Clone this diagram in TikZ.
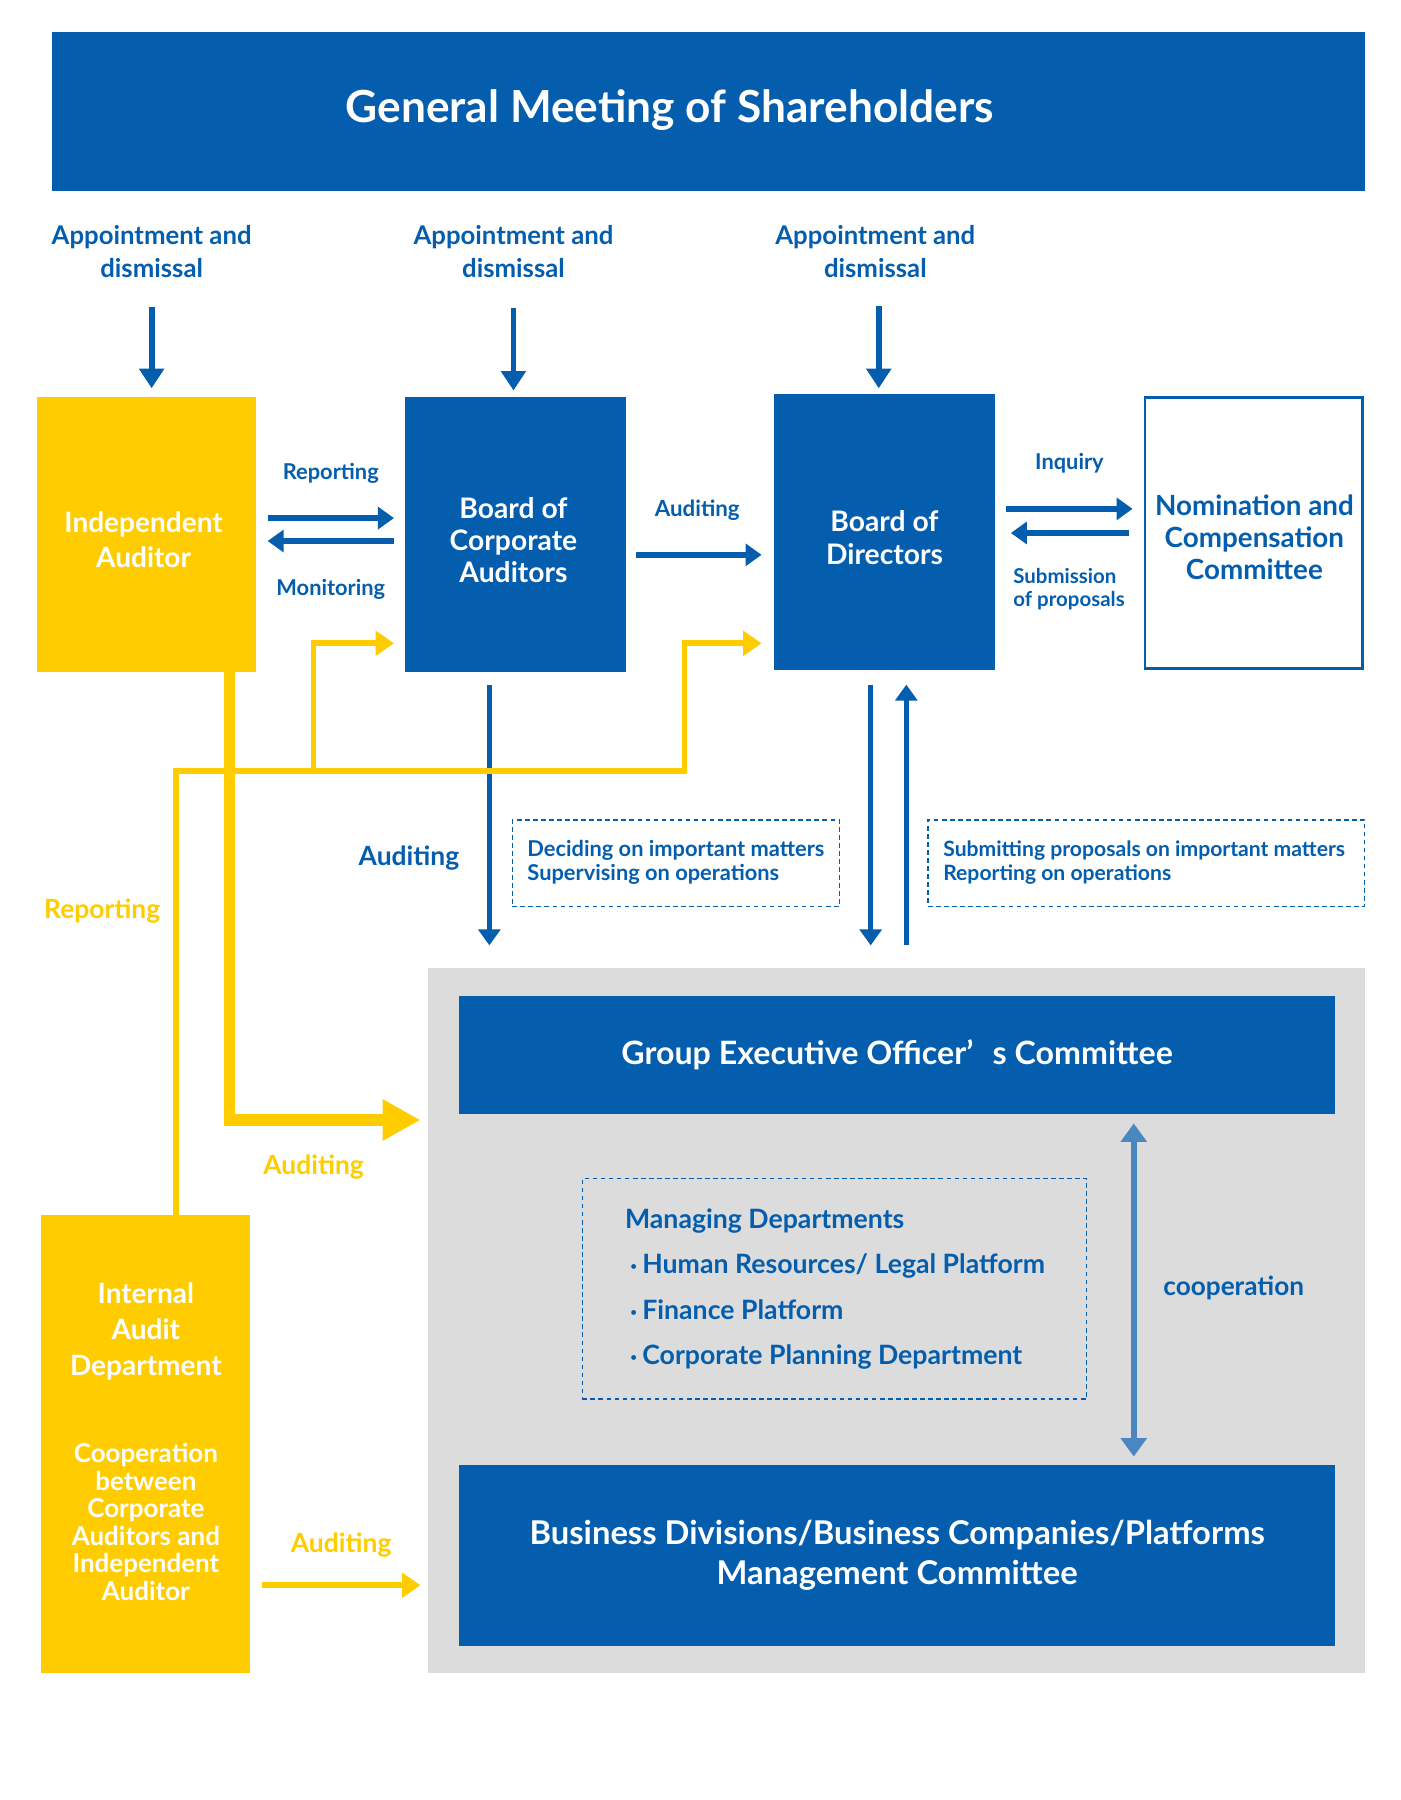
\documentclass[tikz,border=0pt]{standalone}
\usepackage{fontspec}
\setmainfont{Lato}
\newfontfamily\cjk{Noto Sans CJK JP}
\usetikzlibrary{arrows.meta,calc}
\definecolor{cblue}{RGB}{4,94,173}
\definecolor{cyel}{RGB}{255,204,0}
\definecolor{cgray}{RGB}{220,220,220}
\definecolor{clblue}{RGB}{74,134,192}
\newcommand\fsz[2]{\fontsize{#1}{#2}\selectfont\bfseries}
\newcommand\bul{{\cjk\bfseries ・}}
\begin{document}
\begin{tikzpicture}[x=1pt,y=-1pt,
  bluebox/.style={fill=cblue,text=white,align=center,inner sep=0pt,draw=none},
  yelbox/.style={fill=cyel,text=white,align=center,inner sep=0pt,draw=none},
  lbl/.style={text=cblue,align=center,inner sep=0pt},
  ylbl/.style={text=cyel,align=center,inner sep=0pt},
  dbox/.style={draw=cblue,dashed,dash pattern=on 4pt off 3pt,line width=1.3pt,inner sep=0pt},
  barr/.style={draw=cblue,line width=5pt,-{Triangle[length=17pt,width=21pt]}},
  sarr/.style={draw=cblue,line width=5pt,-{Triangle[length=14pt,width=19pt]}},
  yarr/.style={draw=cyel,line width=5pt,-{Triangle[length=16pt,width=21pt]}},
  ybig/.style={draw=cyel,line width=10pt,-{Triangle[length=33pt,width=34pt]}},
  yline/.style={draw=cyel,line width=5pt},
]
\useasboundingbox (0,0) rectangle (1219,1567);
\fill[white] (0,0) rectangle (1219,1567);

% title
\node[bluebox,minimum width=1143pt,minimum height=138pt] (gms) at (616.5,97) {};
\node[text=white,inner sep=0pt,font=\fsz{38.5}{44}] (gmst) at (583,96) {General Meeting of Shareholders};

% appointment labels
\node[lbl,font=\fsz{22.4}{28}] (ap1) at (132,219) {Appointment and\\dismissal};
\node[lbl,font=\fsz{22.4}{28}] (ap2) at (447,219) {Appointment and\\dismissal};
\node[lbl,font=\fsz{22.4}{28}] (ap3) at (762,219) {Appointment and\\dismissal};

% boxes
\node[yelbox,minimum width=191pt,minimum height=239pt] (ia) at (127.5,465.5) {};
\node[text=white,align=center,inner sep=0pt,font=\fsz{24.4}{30}] at (125,470) {Independent\\Auditor};
\node[bluebox,minimum width=192pt,minimum height=239pt] (bca) at (449,465.5) {};
\node[text=white,align=center,inner sep=0pt,font=\fsz{24.6}{28}] at (447,470) {Board of\\Corporate\\Auditors};
\node[bluebox,minimum width=192pt,minimum height=240pt] (bod) at (770,463) {};
\node[text=white,align=center,inner sep=0pt,font=\fsz{24.6}{28}] at (770,468) {Board of\\Directors};
\node[draw=cblue,line width=2pt,fill=white,minimum width=189pt,minimum height=236pt,inner sep=0pt] (ncc) at (1091.5,464) {};
\node[lbl,font=\fsz{24.2}{28}] at (1092,468) {Nomination and\\Compensation\\Committee};

% appointment arrows
\coordinate (a1s) at (132,267); \coordinate (a1e) at (132,338);
\coordinate (a2s) at (447,268); \coordinate (a2e) at (447,340);
\coordinate (a3s) at (765,266); \coordinate (a3e) at (765,338);
\draw[barr] (a1s) -- (a1e);
\draw[barr] (a2s) -- (a2e);
\draw[barr] (a3s) -- (a3e);

% reporting / monitoring
\draw[sarr] (233,451) -- (343,451);
\draw[sarr] (343,471) -- (233,471);
\node[lbl,font=\fsz{19}{22}] at (288,412) {Reporting};
\node[lbl,font=\fsz{19}{22}] at (288,513) {Monitoring};

% auditing BCA -> BoD
\draw[sarr] (554,483) -- (663,483);
\node[lbl,font=\fsz{19.4}{22}] at (607,444) {Auditing};

% inquiry / submission
\draw[sarr] (876,443) -- (986,443);
\draw[sarr] (983,464) -- (880,464);
\node[lbl,font=\fsz{19}{22}] at (931,403) {Inquiry};
\node[lbl,font=\fsz{17.8}{19.5},align=left,anchor=west] at (882,513) {Submission\\of proposals};

% gray region
\node[fill=cgray,minimum width=815pt,minimum height=613pt,inner sep=0pt] (gray) at (780.5,1149.5) {};
\node[bluebox,minimum width=762pt,minimum height=103pt,font=\fsz{28}{32}] (gec) at (781,918.5) {Group Executive Officer’\hspace{0.6em}s Committee};
\node[bluebox,minimum width=762pt,minimum height=158pt,font=\fsz{28.5}{35}] (bdm) at (781,1354) {Business Divisions/Business Companies/Platforms\\Management Committee};
\node[dbox,minimum width=439pt,minimum height=192pt] (md) at (726.5,1122) {};
\node[lbl,font=\fsz{23.2}{39.5},align=left,anchor=north west] (mdt) at (544,1052) {Managing Departments\\%
{\fontsize{15}{15}\selectfont\bul}Human Resources/ Legal Platform\\%
{\fontsize{15}{15}\selectfont\bul}Finance Platform\\%
{\fontsize{15}{15}\selectfont\bul}Corporate Planning Department};
\draw[draw=clblue,line width=5pt,{Triangle[length=16pt,width=22pt]}-{Triangle[length=16pt,width=22pt]}] (987,978) -- (987,1268);
\node[lbl,font=\fsz{22.8}{26}] at (1074,1121) {cooperation};

% internal audit
\node[yelbox,minimum width=182pt,minimum height=398pt] (iad) at (127,1257) {};
\node[text=white,align=center,inner sep=0pt,font=\fsz{24.4}{31}] at (127,1159) {Internal\\Audit\\Department};
\node[text=white,align=center,inner sep=0pt,font=\fsz{22.6}{24}] at (127,1325) {Cooperation\\between\\Corporate\\Auditors and\\Independent\\Auditor};

% blue down arrows
\draw[sarr,line width=4pt] (426,596) -- (426,823);
\node[lbl,font=\fsz{23}{26}] at (356,747) {Auditing};
\draw[sarr,line width=4pt] (758,596) -- (758,823);
\draw[sarr,line width=4pt] (789,823) -- (789,596);
\node[dbox,minimum width=285pt,minimum height=75pt] (db1) at (588.5,751.5) {};
\node[lbl,font=\fsz{19}{21},align=left,anchor=west] at (459,751) {Deciding on important matters\\Supervising on operations};
\node[dbox,minimum width=380pt,minimum height=75pt] (db2) at (998,751.5) {};
\node[lbl,font=\fsz{18.4}{21},align=left,anchor=west] at (821,751) {Submitting proposals on important matters\\Reporting on operations};

% yellow connectors
\coordinate (yr1) at (153,671);
\coordinate (yr2) at (596,671);
\coordinate (yr3) at (596,560);
\coordinate (yr4) at (273,671);
\coordinate (yr5) at (273,560);
\draw[yline] (iad.north -| yr1) -- ([yshift=2.5pt]yr1) ;
\draw[yline,line cap=rect] (yr1) -- (yr2);
\draw[yarr] (yr2) -- (yr3) -- (663,560);
\draw[yarr] (yr4) -- (yr5) -- (343,560);
\node[ylbl,font=\fsz{23}{26}] at (89,793) {Reporting};

\draw[ybig] (200,585) -- (200,975) -- (366,975);
\node[ylbl,font=\fsz{23}{26}] at (273,1016) {Auditing};

\draw[yarr] (228,1380) -- (366,1380);
\node[ylbl,font=\fsz{23}{26}] at (297,1345) {Auditing};
\end{tikzpicture}
\end{document}
